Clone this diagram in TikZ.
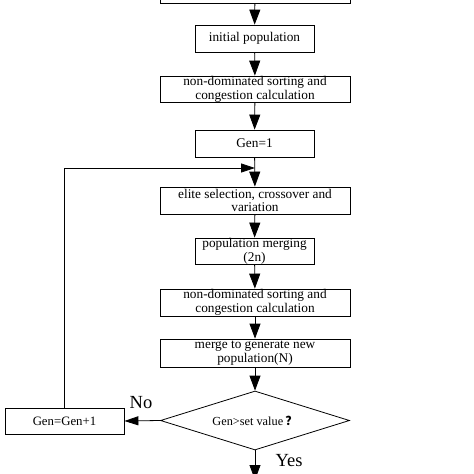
\documentclass[tikz,border=0pt]{standalone}
\usepackage{fontspec}
\setmainfont{Liberation Serif}
\newfontfamily\cjk{Noto Sans CJK SC}
\usetikzlibrary{arrows.meta,shapes.geometric}
\begin{document}
\begin{tikzpicture}[x=1pt,y=-1pt,
  box/.style={draw,line width=0.8pt,inner sep=0pt,align=center,
    font=\fontsize{13.3}{13.8}\selectfont},
  wide/.style={box,minimum width=190pt},
  narrow/.style={box,minimum width=119pt},
  flow/.style={line width=0.8pt,-{Triangle[length=15pt,width=11pt]}},
  side/.style={line width=0.8pt,-{Triangle[length=14pt,width=9pt]}},
  lbl/.style={font=\fontsize{18.5}{20}\selectfont,inner sep=0pt}]
\useasboundingbox (0,0) rectangle (474,474);
\node[wide,minimum height=23pt] (top) at (255,-8.5) {};
\node[narrow,minimum height=27pt] (init) at (254.5,38.5) {initial population};
\node[wide,minimum height=26pt] (nd1) at (255,89) {non-dominated sorting and\\congestion calculation};
\node[narrow,minimum height=27pt] (gen1) at (254.5,143.5) {Gen=1};
\node[wide,minimum height=27pt] (elite) at (255,200.5) {elite selection, crossover and\\variation};
\node[narrow,minimum height=26pt] (merge) at (254.5,251) {population merging\\(2n)};
\node[wide,minimum height=27pt] (nd2) at (255,302.5) {non-dominated sorting and\\congestion calculation};
\node[wide,minimum height=28pt] (newpop) at (255,353) {merge to generate new\\population(N)};
\node[draw,line width=0.8pt,shape=diamond,inner sep=0pt,aspect=3.2,
  minimum width=189pt,minimum height=59pt,
  font=\fontsize{12.3}{13}\selectfont] (dec) at (255,420.5) {Gen>set value\,{\cjk\bfseries ？}};
\node[narrow,minimum height=26pt,font=\fontsize{12.8}{14}\selectfont] (inc) at (64.5,421) {Gen=Gen+1};
\coordinate (join) at (255,168);
\coordinate (out) at (255,480);
\draw[flow] (top) -- (init);
\draw[flow] (init) -- (nd1);
\draw[flow] (nd1) -- (gen1);
\draw[flow] (gen1) -- (elite);
\draw[flow] (elite) -- (merge);
\draw[flow] (merge) -- (nd2);
\draw[flow] (nd2) -- (newpop);
\draw[flow] (newpop) -- (dec);
\draw[side] (dec.west) -- (inc.east);
\draw[side] (inc.north) |- (join);
\draw[flow] (dec.south) -- (out);
\node[lbl] (no) at (141,403) {No};
\node[lbl] (yes) at (289,461) {Yes};
\end{tikzpicture}
\end{document}
